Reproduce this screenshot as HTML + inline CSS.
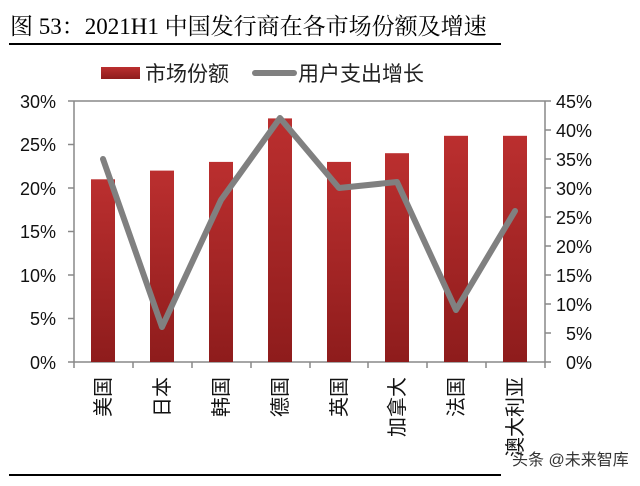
<!DOCTYPE html>
<html><head><meta charset="utf-8"><style>
body{margin:0;background:#fff;}
svg text{font-family:"Liberation Sans","Noto Sans CJK SC",sans-serif;}
</style></head><body>
<svg width="640" height="481" viewBox="0 0 640 481" xmlns="http://www.w3.org/2000/svg">
<defs><linearGradient id="g" x1="0" y1="0" x2="0" y2="1"><stop offset="0" stop-color="#bb2f2f"/><stop offset="1" stop-color="#8e1c1c"/></linearGradient></defs>
<text x="10" y="34" font-size="23" style="font-family:'Liberation Serif','Noto Serif CJK SC',serif">图 53：2021H1 中国发行商在各市场份额及增速</text>
<line x1="9" y1="44" x2="501" y2="44" stroke="#000" stroke-width="2"/>
<line x1="9" y1="475" x2="501" y2="475" stroke="#000" stroke-width="2"/>
<rect x="101" y="67" width="39" height="12" fill="url(#g)"/>
<text x="145" y="81" font-size="21" fill="#222">市场份额</text>
<line x1="255" y1="73" x2="294" y2="73" stroke="#808080" stroke-width="6" stroke-linecap="round"/>
<text x="298" y="81" font-size="21" fill="#222">用户支出增长</text>
<g stroke="#888" stroke-width="1.5" fill="none">
<line x1="74" y1="101" x2="545" y2="101"/>
<line x1="74" y1="101" x2="74" y2="362"/>
<line x1="545" y1="101" x2="545" y2="362"/>
<line x1="68" y1="362" x2="551" y2="362"/>
</g>
<g stroke="#888" stroke-width="1.5">
<line x1="68" y1="101" x2="74" y2="101"/><line x1="68" y1="144.5" x2="74" y2="144.5"/><line x1="68" y1="188" x2="74" y2="188"/><line x1="68" y1="231.5" x2="74" y2="231.5"/><line x1="68" y1="275" x2="74" y2="275"/><line x1="68" y1="318.5" x2="74" y2="318.5"/>
<line x1="545" y1="101" x2="551" y2="101"/><line x1="545" y1="130" x2="551" y2="130"/><line x1="545" y1="159" x2="551" y2="159"/><line x1="545" y1="188" x2="551" y2="188"/><line x1="545" y1="217" x2="551" y2="217"/><line x1="545" y1="246" x2="551" y2="246"/><line x1="545" y1="275" x2="551" y2="275"/><line x1="545" y1="304" x2="551" y2="304"/><line x1="545" y1="333" x2="551" y2="333"/>
<line x1="74" y1="362" x2="74" y2="368"/><line x1="133" y1="362" x2="133" y2="368"/><line x1="192" y1="362" x2="192" y2="368"/><line x1="251" y1="362" x2="251" y2="368"/><line x1="310" y1="362" x2="310" y2="368"/><line x1="368" y1="362" x2="368" y2="368"/><line x1="427" y1="362" x2="427" y2="368"/><line x1="486" y1="362" x2="486" y2="368"/><line x1="545" y1="362" x2="545" y2="368"/>
</g>
<g font-size="18" fill="#111" text-anchor="end">
<text x="56" y="108">30%</text><text x="56" y="151">25%</text><text x="56" y="195">20%</text><text x="56" y="238">15%</text><text x="56" y="282">10%</text><text x="56" y="325">5%</text><text x="56" y="369">0%</text>
</g>
<g font-size="18" fill="#111" text-anchor="start">
<text x="556" y="108">45%</text><text x="556" y="137">40%</text><text x="556" y="166">35%</text><text x="556" y="195">30%</text><text x="556" y="224">25%</text><text x="556" y="253">20%</text><text x="556" y="282">15%</text><text x="556" y="311">10%</text><text x="566" y="340">5%</text><text x="566" y="369">0%</text>
</g>
<g fill="url(#g)">
<rect x="91" y="179.3" width="24" height="182.7"/>
<rect x="150" y="170.6" width="24" height="191.4"/>
<rect x="209" y="161.9" width="24" height="200.1"/>
<rect x="268" y="118.4" width="24" height="243.6"/>
<rect x="327" y="161.9" width="24" height="200.1"/>
<rect x="385" y="153.2" width="24" height="208.8"/>
<rect x="444" y="135.8" width="24" height="226.2"/>
<rect x="503" y="135.8" width="24" height="226.2"/>
</g>
<polyline points="103,159 162,327 221,200 280,118 339,188 397,182 456,310 515,211" fill="none" stroke="#808080" stroke-width="6" stroke-linejoin="round" stroke-linecap="round"/>
<g font-size="20" fill="#111" text-anchor="end" style="font-family:'Liberation Serif','Noto Serif CJK SC',serif">
<text transform="translate(110,377) rotate(-90)">美国</text>
<text transform="translate(169,377) rotate(-90)">日本</text>
<text transform="translate(228,377) rotate(-90)">韩国</text>
<text transform="translate(287,377) rotate(-90)">德国</text>
<text transform="translate(346,377) rotate(-90)">英国</text>
<text transform="translate(404,377) rotate(-90)">加拿大</text>
<text transform="translate(463,377) rotate(-90)">法国</text>
<text transform="translate(522,377) rotate(-90)">澳大利亚</text>
</g>
<text x="512" y="465" font-size="16" fill="#333">头条 @未来智库</text>
</svg>
</body></html>
